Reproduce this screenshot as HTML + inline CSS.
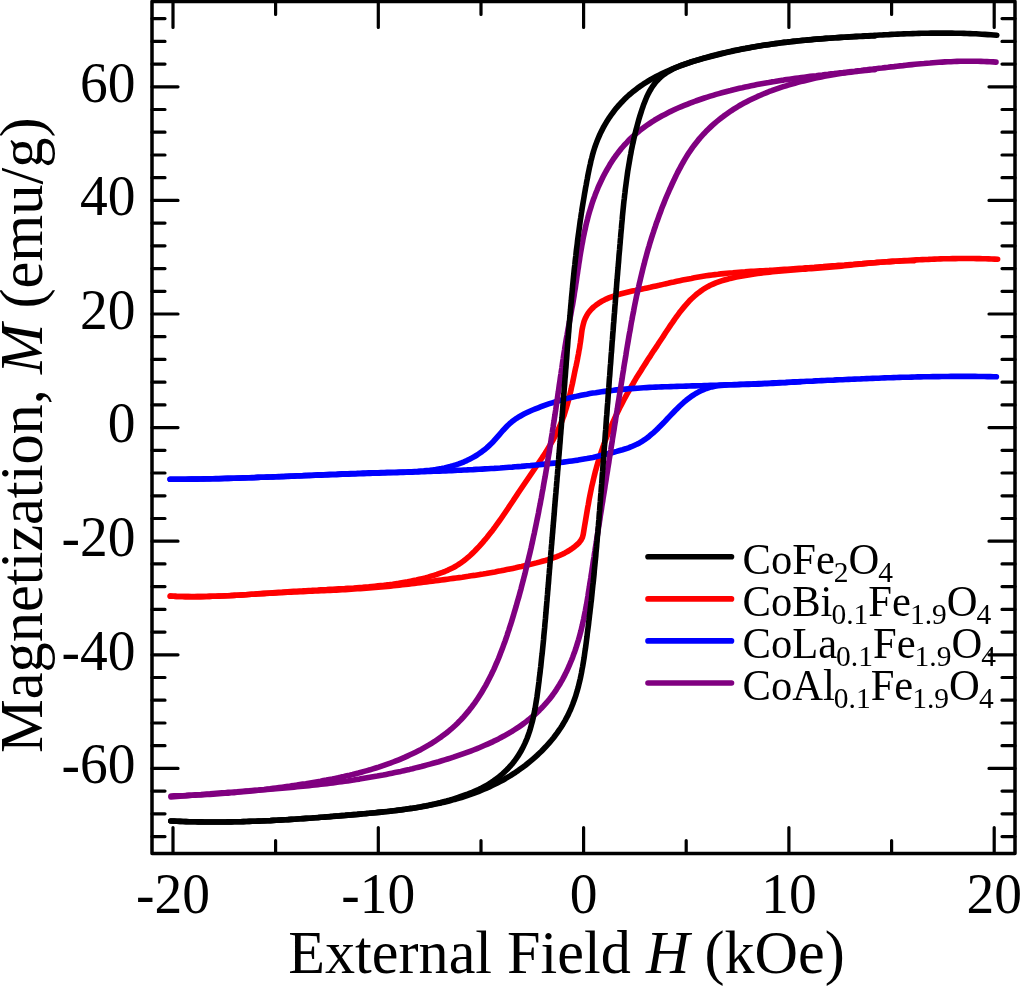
<!DOCTYPE html>
<html><head><meta charset="utf-8"><style>
html,body{margin:0;padding:0;background:#fff;}
body{width:1020px;height:986px;overflow:hidden;}
svg{display:block;font-family:"Liberation Serif","Times New Roman",serif;}
.s{font-size:29.5px;}
</style></head><body>
<svg width="1020" height="986" viewBox="0 0 1020 986">
<rect x="152" y="1.5" width="863" height="852.0" fill="none" stroke="#000" stroke-width="3.5" stroke-linejoin="round"/>
<path d="M173.0,853.5v-26M173.0,1.5v26M275.6,853.5v-13M275.6,1.5v13M378.3,853.5v-26M378.3,1.5v26M481.0,853.5v-13M481.0,1.5v13M583.6,853.5v-26M583.6,1.5v26M686.2,853.5v-13M686.2,1.5v13M788.9,853.5v-26M788.9,1.5v26M891.6,853.5v-13M891.6,1.5v13M994.2,853.5v-26M994.2,1.5v26M152,836.6h13M1015,836.6h-13M152,813.8h13M1015,813.8h-13M152,791.1h13M1015,791.1h-13M152,768.4h26M1015,768.4h-26M152,745.7h13M1015,745.7h-13M152,723.0h13M1015,723.0h-13M152,700.2h13M1015,700.2h-13M152,677.5h13M1015,677.5h-13M152,654.8h26M1015,654.8h-26M152,632.1h13M1015,632.1h-13M152,609.4h13M1015,609.4h-13M152,586.6h13M1015,586.6h-13M152,563.9h13M1015,563.9h-13M152,541.2h26M1015,541.2h-26M152,518.5h13M1015,518.5h-13M152,495.8h13M1015,495.8h-13M152,473.0h13M1015,473.0h-13M152,450.3h13M1015,450.3h-13M152,427.6h26M1015,427.6h-26M152,404.9h13M1015,404.9h-13M152,382.2h13M1015,382.2h-13M152,359.4h13M1015,359.4h-13M152,336.7h13M1015,336.7h-13M152,314.0h26M1015,314.0h-26M152,291.3h13M1015,291.3h-13M152,268.6h13M1015,268.6h-13M152,245.8h13M1015,245.8h-13M152,223.1h13M1015,223.1h-13M152,200.4h26M1015,200.4h-26M152,177.7h13M1015,177.7h-13M152,155.0h13M1015,155.0h-13M152,132.2h13M1015,132.2h-13M152,109.5h13M1015,109.5h-13M152,86.8h26M1015,86.8h-26M152,64.1h13M1015,64.1h-13M152,41.4h13M1015,41.4h-13M152,18.6h13M1015,18.6h-13" fill="none" stroke="#000" stroke-width="3.2" stroke-linecap="round"/>
<path d="M997.6,259.2 994.6,259.1 991.6,259.0 988.6,258.9 985.6,258.8 982.6,258.7 979.6,258.6 976.6,258.6 973.6,258.5 970.6,258.5 967.6,258.5 964.6,258.5 961.6,258.5 958.5,258.5 955.5,258.6 952.5,258.6 949.5,258.7 946.5,258.8 943.5,258.8 940.5,258.9 937.4,259.0 934.4,259.1 931.4,259.2 928.4,259.4 925.4,259.5 922.4,259.6 919.4,259.8 916.3,259.9 913.3,260.1 910.3,260.3 907.3,260.5 904.3,260.6 901.3,260.8 898.3,261.0 895.3,261.2 892.2,261.4 889.2,261.6 886.2,261.8 883.2,262.0 880.2,262.2 877.2,262.4 874.2,262.7 871.2,262.9 868.2,263.1 865.2,263.3 862.2,263.6 859.2,263.8 856.2,264.0 853.3,264.3 850.3,264.5 847.3,264.7 844.3,265.0 841.3,265.2 838.3,265.4 835.3,265.7 832.3,265.9 829.3,266.1 826.3,266.3 823.3,266.6 820.3,266.8 817.3,267.0 814.3,267.3 811.3,267.5 808.3,267.7 805.3,267.9 802.3,268.2 799.3,268.4 796.3,268.6 793.3,268.8 790.3,269.0 787.3,269.2 784.3,269.4 781.3,269.6 778.2,269.8 775.2,270.0 772.2,270.2 769.2,270.4 766.1,270.5 763.1,270.7 760.1,270.9 757.1,271.1 754.0,271.3 751.0,271.4 748.0,271.6 745.0,271.9 741.9,272.1 738.9,272.3 735.9,272.5 732.9,272.8 729.9,273.0 726.9,273.3 723.9,273.6 720.9,273.9 717.9,274.3 715.0,274.6 712.0,275.0 709.0,275.4 706.1,275.8 703.1,276.3 700.2,276.8 697.2,277.3 694.3,277.8 691.4,278.4 688.5,278.9 685.6,279.5 682.6,280.1 679.7,280.7 676.8,281.3 673.9,282.0 671.0,282.6 668.0,283.3 665.1,283.9 662.2,284.6 659.2,285.3 656.3,285.9 653.3,286.6 650.3,287.3 647.3,287.9 644.3,288.6 641.3,289.2 638.3,289.8 635.2,290.5 632.2,291.1 629.2,291.8 626.2,292.5 623.2,293.2 620.2,294.0 617.3,294.9 614.4,295.8 611.6,296.8 608.8,297.9 606.1,299.1 603.4,300.4 600.9,301.8 598.4,303.4 596.1,305.1 593.8,306.9 591.7,308.9 589.7,311.1 588.0,313.4 586.5,315.9 585.2,318.5 584.1,321.3 583.3,324.2 582.6,327.1 582.0,330.1 581.6,333.2 581.2,336.3 580.8,339.3 580.4,342.4 579.9,345.4 579.5,348.3 578.9,351.3 578.4,354.2 577.8,357.2 577.3,360.1 576.7,363.0 576.1,365.9 575.4,368.9 574.8,371.8 574.2,374.7 573.6,377.7 573.0,380.6 572.4,383.6 571.7,386.5 571.1,389.5 570.4,392.5 569.7,395.4 569.0,398.4 568.2,401.3 567.4,404.2 566.6,407.1 565.7,410.0 564.8,412.9 563.9,415.8 562.8,418.6 561.8,421.4 560.6,424.2 559.4,426.9 558.2,429.6 556.9,432.3 555.6,435.0 554.2,437.7 552.8,440.3 551.3,442.9 549.8,445.5 548.2,448.1 546.7,450.6 545.1,453.2 543.4,455.7 541.8,458.2 540.1,460.7 538.4,463.2 536.7,465.7 535.0,468.2 533.3,470.7 531.6,473.2 529.9,475.7 528.2,478.2 526.5,480.7 524.8,483.2 523.1,485.7 521.4,488.2 519.7,490.7 518.0,493.2 516.4,495.7 514.7,498.3 513.1,500.8 511.4,503.3 509.7,505.8 508.1,508.3 506.4,510.8 504.7,513.3 503.0,515.8 501.3,518.3 499.6,520.7 497.8,523.2 496.0,525.6 494.3,528.0 492.5,530.4 490.6,532.8 488.8,535.1 486.9,537.5 484.9,539.8 483.0,542.1 481.0,544.4 479.0,546.6 476.9,548.8 474.8,551.0 472.6,553.1 470.4,555.2 468.2,557.2 465.9,559.1 463.5,561.0 461.1,562.7 458.6,564.4 456.1,566.0 453.5,567.5 450.8,568.8 448.1,570.1 445.3,571.3 442.5,572.4 439.6,573.4 436.8,574.4 433.9,575.3 431.0,576.2 428.1,577.1 425.2,577.9 422.3,578.6 419.4,579.3 416.5,580.0 413.5,580.6 410.6,581.2 407.6,581.8 404.6,582.3 401.7,582.8 398.7,583.3 395.7,583.7 392.7,584.2 389.7,584.6 386.7,584.9 383.8,585.3 380.8,585.6 377.8,585.9 374.8,586.2 371.8,586.5 368.8,586.8 365.7,587.0 362.7,587.3 359.7,587.5 356.7,587.7 353.7,588.0 350.7,588.2 347.7,588.4 344.7,588.6 341.7,588.7 338.7,588.9 335.7,589.1 332.7,589.3 329.7,589.4 326.7,589.6 323.7,589.7 320.7,589.9 317.7,590.1 314.7,590.2 311.7,590.4 308.7,590.5 305.7,590.7 302.6,590.9 299.6,591.0 296.6,591.2 293.6,591.4 290.6,591.6 287.6,591.8 284.6,592.0 281.6,592.2 278.6,592.4 275.6,592.6 272.6,592.8 269.6,593.0 266.6,593.2 263.6,593.4 260.6,593.6 257.6,593.8 254.5,594.1 251.5,594.3 248.5,594.5 245.5,594.7 242.5,594.9 239.5,595.0 236.5,595.2 233.5,595.4 230.5,595.6 227.5,595.7 224.5,595.9 221.5,596.0 218.5,596.1 215.5,596.2 212.4,596.3 209.4,596.4 206.4,596.5 203.4,596.6 200.4,596.6 197.4,596.6 194.4,596.7 191.4,596.7 188.4,596.6 185.4,596.6 182.3,596.5 179.3,596.5 176.3,596.4 173.3,596.2 170.3,596.1" fill="none" stroke="#ff0000" stroke-width="5.6" stroke-linecap="round" stroke-linejoin="round"/>
<path d="M170.3,596.1 173.3,596.2 176.3,596.4 179.4,596.5 182.4,596.5 185.4,596.6 188.4,596.6 191.4,596.6 194.4,596.6 197.5,596.6 200.5,596.6 203.5,596.5 206.5,596.5 209.5,596.4 212.5,596.3 215.6,596.2 218.6,596.1 221.6,596.0 224.6,595.8 227.6,595.7 230.6,595.5 233.7,595.4 236.7,595.2 239.7,595.1 242.7,594.9 245.7,594.7 248.7,594.5 251.8,594.3 254.8,594.2 257.8,594.0 260.8,593.8 263.8,593.6 266.8,593.4 269.8,593.3 272.9,593.1 275.9,592.9 278.9,592.7 281.9,592.6 284.9,592.4 287.9,592.3 291.0,592.1 294.0,592.0 297.0,591.9 300.0,591.7 303.0,591.6 306.0,591.4 309.0,591.3 312.1,591.2 315.1,591.0 318.1,590.9 321.1,590.8 324.1,590.6 327.1,590.5 330.1,590.4 333.2,590.2 336.2,590.1 339.2,589.9 342.2,589.7 345.2,589.6 348.2,589.4 351.2,589.2 354.2,589.0 357.3,588.8 360.3,588.6 363.3,588.4 366.3,588.2 369.3,588.0 372.3,587.7 375.3,587.5 378.3,587.2 381.3,587.0 384.3,586.7 387.4,586.4 390.4,586.1 393.4,585.8 396.4,585.4 399.4,585.1 402.4,584.8 405.4,584.4 408.4,584.1 411.4,583.7 414.4,583.4 417.4,583.0 420.4,582.7 423.4,582.3 426.4,581.9 429.4,581.5 432.4,581.2 435.4,580.8 438.4,580.4 441.4,580.0 444.4,579.6 447.4,579.2 450.3,578.8 453.3,578.4 456.3,578.0 459.3,577.6 462.3,577.2 465.3,576.7 468.2,576.3 471.2,575.8 474.2,575.4 477.2,574.9 480.1,574.4 483.1,574.0 486.1,573.5 489.0,572.9 492.0,572.4 495.0,571.9 497.9,571.3 500.9,570.8 503.9,570.2 506.8,569.6 509.8,569.0 512.8,568.4 515.7,567.8 518.7,567.1 521.6,566.5 524.6,565.8 527.6,565.1 530.5,564.4 533.5,563.6 536.4,562.9 539.4,562.1 542.3,561.3 545.3,560.5 548.2,559.6 551.1,558.7 553.9,557.7 556.8,556.6 559.5,555.5 562.3,554.2 564.9,552.9 567.5,551.5 570.1,549.9 572.5,548.2 574.9,546.4 577.2,544.5 579.3,542.4 581.1,540.0 582.4,537.4 583.2,534.5 583.7,531.5 584.2,528.4 584.7,525.4 585.2,522.5 585.7,519.5 586.2,516.5 586.7,513.5 587.2,510.5 587.7,507.5 588.3,504.5 588.8,501.5 589.3,498.6 589.9,495.6 590.5,492.6 591.1,489.7 591.7,486.7 592.4,483.8 593.1,480.8 593.8,477.9 594.5,475.0 595.2,472.1 596.0,469.2 596.8,466.3 597.6,463.4 598.5,460.5 599.4,457.7 600.3,454.8 601.2,452.0 602.2,449.1 603.2,446.3 604.2,443.4 605.3,440.6 606.4,437.8 607.5,434.9 608.6,432.1 609.8,429.3 611.0,426.6 612.2,423.8 613.5,421.0 614.7,418.2 616.0,415.5 617.3,412.8 618.7,410.0 620.0,407.3 621.4,404.6 622.8,401.9 624.2,399.2 625.6,396.6 627.1,393.9 628.6,391.3 630.0,388.7 631.5,386.1 633.1,383.5 634.6,380.9 636.1,378.3 637.7,375.8 639.3,373.2 640.9,370.7 642.4,368.2 644.0,365.7 645.7,363.1 647.3,360.6 648.9,358.1 650.6,355.6 652.2,353.1 653.8,350.6 655.5,348.1 657.2,345.6 658.8,343.0 660.5,340.5 662.2,338.0 663.9,335.4 665.5,332.8 667.2,330.3 668.9,327.7 670.6,325.1 672.4,322.6 674.1,320.1 675.9,317.5 677.7,315.1 679.5,312.6 681.4,310.2 683.3,307.9 685.2,305.6 687.2,303.3 689.2,301.1 691.3,299.0 693.5,297.0 695.7,295.0 697.9,293.2 700.3,291.4 702.7,289.7 705.2,288.2 707.7,286.7 710.3,285.3 713.0,284.1 715.8,282.9 718.6,281.9 721.5,280.9 724.4,280.0 727.3,279.2 730.3,278.4 733.3,277.7 736.3,277.0 739.4,276.4 742.4,275.9 745.4,275.4 748.5,274.9 751.5,274.4 754.5,274.0 757.6,273.5 760.6,273.2 763.6,272.8 766.6,272.4 769.6,272.1 772.6,271.8 775.6,271.5 778.6,271.2 781.6,270.9 784.5,270.7 787.5,270.4 790.5,270.2 793.5,270.0 796.5,269.7 799.4,269.5 802.4,269.3 805.4,269.1 808.4,268.8 811.4,268.6 814.4,268.4 817.3,268.2 820.3,267.9 823.3,267.7 826.3,267.5 829.3,267.2 832.3,266.9 835.3,266.7 838.4,266.4 841.4,266.1 844.4,265.8 847.4,265.5 850.4,265.2 853.5,264.8 856.5,264.5 859.5,264.2 862.6,263.9 865.6,263.6 868.6,263.3 871.6,263.0 874.7,262.8 877.7,262.5 880.7,262.2 883.8,262.0 886.8,261.8 889.8,261.6 892.8,261.4 895.8,261.2 898.8,261.1 901.8,260.9 904.8,260.8 907.8,260.7 910.8,260.7 913.8,260.7" fill="none" stroke="#ff0000" stroke-width="5.6" stroke-linecap="round" stroke-linejoin="round"/>
<path d="M996.4,376.7 993.4,376.7 990.3,376.6 987.3,376.6 984.2,376.5 981.2,376.5 978.2,376.5 975.1,376.4 972.1,376.4 969.0,376.4 966.0,376.4 963.0,376.4 960.0,376.4 956.9,376.4 953.9,376.4 950.9,376.4 947.9,376.5 944.8,376.5 941.8,376.5 938.8,376.6 935.8,376.6 932.8,376.6 929.7,376.7 926.7,376.8 923.7,376.8 920.7,376.9 917.7,376.9 914.7,377.0 911.7,377.1 908.7,377.2 905.7,377.3 902.6,377.3 899.6,377.4 896.6,377.5 893.6,377.6 890.6,377.7 887.6,377.8 884.6,377.9 881.6,378.0 878.6,378.2 875.6,378.3 872.6,378.4 869.6,378.5 866.6,378.6 863.6,378.7 860.6,378.9 857.6,379.0 854.6,379.1 851.6,379.3 848.6,379.4 845.6,379.5 842.6,379.7 839.6,379.8 836.6,379.9 833.6,380.1 830.6,380.2 827.6,380.3 824.6,380.5 821.7,380.6 818.7,380.8 815.7,380.9 812.7,381.1 809.7,381.2 806.7,381.3 803.7,381.5 800.7,381.6 797.7,381.8 794.7,381.9 791.7,382.1 788.7,382.2 785.7,382.4 782.7,382.5 779.6,382.6 776.6,382.8 773.6,382.9 770.6,383.1 767.6,383.2 764.6,383.3 761.6,383.5 758.6,383.6 755.6,383.7 752.6,383.9 749.6,384.0 746.6,384.1 743.5,384.2 740.5,384.3 737.5,384.5 734.5,384.6 731.5,384.7 728.5,384.8 725.4,384.9 722.4,385.0 719.4,385.1 716.4,385.2 713.3,385.3 710.3,385.4 707.3,385.5 704.2,385.6 701.2,385.7 698.2,385.8 695.1,385.9 692.1,385.9 689.1,386.0 686.0,386.1 683.0,386.2 680.0,386.3 676.9,386.4 673.9,386.5 670.8,386.6 667.8,386.7 664.8,386.8 661.7,386.9 658.7,387.0 655.7,387.1 652.6,387.3 649.6,387.4 646.6,387.6 643.6,387.8 640.6,388.0 637.5,388.2 634.5,388.4 631.5,388.6 628.5,388.8 625.5,389.1 622.5,389.4 619.5,389.6 616.5,389.9 613.5,390.3 610.6,390.6 607.6,391.0 604.6,391.4 601.6,391.8 598.7,392.2 595.7,392.7 592.8,393.1 589.8,393.6 586.9,394.2 584.0,394.7 581.0,395.3 578.1,395.9 575.2,396.6 572.3,397.2 569.4,397.9 566.5,398.6 563.7,399.4 560.8,400.2 557.9,401.0 555.1,401.9 552.2,402.8 549.4,403.7 546.6,404.6 543.8,405.6 541.0,406.7 538.2,407.8 535.4,408.9 532.6,410.0 529.8,411.2 527.1,412.5 524.4,413.8 521.8,415.2 519.2,416.7 516.6,418.3 514.2,420.0 511.8,421.8 509.6,423.7 507.4,425.8 505.3,428.0 503.2,430.2 501.2,432.5 499.2,434.8 497.2,437.1 495.2,439.4 493.2,441.7 491.1,443.8 488.9,445.9 486.7,447.9 484.4,449.8 482.0,451.6 479.6,453.3 477.1,455.0 474.6,456.5 472.1,457.9 469.5,459.3 466.8,460.6 464.1,461.8 461.4,462.9 458.7,463.9 455.9,464.8 453.1,465.7 450.2,466.5 447.4,467.2 444.5,467.9 441.6,468.5 438.7,469.0 435.7,469.5 432.8,469.9 429.8,470.3 426.8,470.6 423.8,470.9 420.8,471.1 417.7,471.4 414.7,471.5 411.6,471.7 408.6,471.8 405.5,472.0 402.5,472.1 399.4,472.1 396.3,472.2 393.3,472.3 390.2,472.4 387.1,472.4 384.1,472.5 381.0,472.6 378.0,472.7 374.9,472.8 371.9,472.8 368.8,472.9 365.8,473.0 362.8,473.1 359.7,473.2 356.7,473.4 353.7,473.5 350.6,473.6 347.6,473.7 344.6,473.8 341.6,473.9 338.6,474.0 335.6,474.2 332.6,474.3 329.6,474.4 326.6,474.5 323.6,474.7 320.6,474.8 317.6,474.9 314.6,475.0 311.6,475.2 308.6,475.3 305.6,475.4 302.6,475.6 299.6,475.7 296.6,475.8 293.6,476.0 290.6,476.1 287.6,476.2 284.6,476.4 281.7,476.5 278.7,476.6 275.7,476.7 272.7,476.9 269.7,477.0 266.7,477.1 263.7,477.2 260.7,477.3 257.7,477.4 254.7,477.6 251.7,477.7 248.7,477.8 245.7,477.9 242.7,478.0 239.7,478.1 236.7,478.2 233.7,478.3 230.7,478.4 227.7,478.4 224.7,478.5 221.7,478.6 218.7,478.7 215.7,478.7 212.7,478.8 209.6,478.9 206.6,478.9 203.6,479.0 200.5,479.0 197.5,479.1 194.5,479.1 191.4,479.1 188.4,479.2 185.3,479.2 182.3,479.2 179.2,479.2 176.2,479.2 173.1,479.2 170.0,479.2" fill="none" stroke="#0000ff" stroke-width="5.6" stroke-linecap="round" stroke-linejoin="round"/>
<path d="M170.2,479.3 173.3,479.3 176.3,479.3 179.4,479.2 182.4,479.2 185.4,479.2 188.5,479.1 191.5,479.1 194.5,479.1 197.6,479.0 200.6,479.0 203.6,478.9 206.7,478.8 209.7,478.8 212.7,478.7 215.7,478.6 218.8,478.6 221.8,478.5 224.8,478.4 227.8,478.4 230.9,478.3 233.9,478.2 236.9,478.1 239.9,478.0 243.0,477.9 246.0,477.8 249.0,477.7 252.0,477.6 255.1,477.5 258.1,477.4 261.1,477.3 264.1,477.2 267.1,477.1 270.2,477.0 273.2,476.9 276.2,476.8 279.2,476.7 282.2,476.6 285.3,476.5 288.3,476.4 291.3,476.3 294.3,476.1 297.3,476.0 300.4,475.9 303.4,475.8 306.4,475.7 309.4,475.6 312.4,475.5 315.5,475.3 318.5,475.2 321.5,475.1 324.5,475.0 327.6,474.9 330.6,474.8 333.6,474.7 336.6,474.6 339.6,474.4 342.7,474.3 345.7,474.2 348.7,474.1 351.7,474.0 354.8,473.9 357.8,473.8 360.8,473.7 363.9,473.6 366.9,473.5 369.9,473.4 372.9,473.3 376.0,473.2 379.0,473.1 382.0,473.0 385.1,472.9 388.1,472.8 391.1,472.7 394.2,472.7 397.2,472.6 400.2,472.5 403.3,472.4 406.3,472.3 409.3,472.2 412.4,472.1 415.4,472.0 418.4,471.9 421.5,471.8 424.5,471.7 427.5,471.5 430.6,471.4 433.6,471.3 436.6,471.2 439.6,471.1 442.7,471.0 445.7,470.9 448.7,470.7 451.8,470.6 454.8,470.5 457.8,470.3 460.9,470.2 463.9,470.0 466.9,469.9 469.9,469.7 473.0,469.6 476.0,469.4 479.0,469.3 482.0,469.1 485.1,468.9 488.1,468.7 491.1,468.5 494.1,468.4 497.1,468.2 500.1,468.0 503.2,467.7 506.2,467.5 509.2,467.3 512.2,467.1 515.2,466.8 518.2,466.6 521.2,466.4 524.2,466.1 527.2,465.8 530.3,465.6 533.3,465.3 536.3,465.0 539.3,464.7 542.3,464.4 545.2,464.1 548.2,463.8 551.2,463.4 554.2,463.1 557.2,462.8 560.2,462.4 563.2,462.1 566.2,461.7 569.2,461.3 572.1,460.9 575.1,460.5 578.1,460.1 581.1,459.6 584.0,459.1 587.0,458.6 590.0,458.0 592.9,457.4 595.9,456.7 598.8,456.0 601.8,455.3 604.7,454.5 607.7,453.7 610.7,453.0 613.7,452.2 616.7,451.4 619.7,450.5 622.6,449.7 625.6,448.8 628.5,447.8 631.3,446.7 634.1,445.5 636.8,444.3 639.5,442.9 642.1,441.3 644.6,439.7 647.0,438.0 649.3,436.2 651.6,434.2 653.9,432.3 656.1,430.2 658.3,428.1 660.4,426.0 662.6,423.8 664.7,421.6 666.8,419.3 668.9,417.1 671.0,414.9 673.1,412.7 675.2,410.5 677.3,408.4 679.5,406.2 681.7,404.2 683.9,402.2 686.2,400.3 688.5,398.5 690.9,396.7 693.3,395.1 695.8,393.5 698.4,392.1 701.0,390.8 703.6,389.6 706.4,388.5 709.2,387.6 712.0,386.9 714.9,386.3 717.9,385.8 720.9,385.4 724.0,385.1 727.0,384.9 730.1,384.8 733.3,384.7 736.4,384.7 739.5,384.6 742.6,384.5 745.6,384.5 748.7,384.4 751.7,384.3 754.8,384.2 757.8,384.1 760.8,383.9 763.9,383.8 766.9,383.7 769.9,383.5 772.9,383.4 775.9,383.2 778.9,383.0 781.9,382.8 784.9,382.7 787.9,382.5 790.9,382.3 793.9,382.1 796.9,381.9 800.0,381.7" fill="none" stroke="#0000ff" stroke-width="5.6" stroke-linecap="round" stroke-linejoin="round"/>
<path d="M996.0,62.1 993.0,61.9 990.0,61.7 987.0,61.6 984.0,61.5 981.0,61.4 978.0,61.3 975.0,61.2 972.0,61.2 969.0,61.2 966.0,61.2 963.0,61.3 960.0,61.3 957.0,61.4 954.0,61.5 951.0,61.7 948.0,61.8 945.0,61.9 942.0,62.1 939.0,62.3 936.0,62.5 933.0,62.7 930.0,63.0 927.0,63.2 924.0,63.5 921.0,63.7 918.0,64.0 915.0,64.3 912.0,64.6 909.0,64.9 906.0,65.2 903.0,65.6 900.0,65.9 897.0,66.2 894.0,66.6 891.0,66.9 888.0,67.3 885.0,67.6 882.0,68.0 879.0,68.3 876.0,68.7 873.0,69.1 870.0,69.4 867.0,69.8 864.0,70.1 861.0,70.5 858.0,70.8 855.0,71.2 852.0,71.5 849.0,71.9 846.1,72.2 843.1,72.6 840.1,72.9 837.1,73.2 834.1,73.6 831.1,73.9 828.1,74.3 825.2,74.6 822.2,75.0 819.2,75.3 816.2,75.7 813.3,76.0 810.3,76.4 807.3,76.8 804.3,77.2 801.4,77.6 798.4,78.0 795.4,78.4 792.5,78.8 789.5,79.2 786.5,79.6 783.6,80.1 780.6,80.5 777.7,81.0 774.7,81.5 771.7,81.9 768.8,82.5 765.8,83.0 762.9,83.5 760.0,84.0 757.0,84.6 754.1,85.2 751.1,85.8 748.2,86.4 745.2,87.0 742.3,87.7 739.4,88.3 736.5,89.0 733.5,89.7 730.6,90.5 727.7,91.2 724.8,92.0 721.8,92.8 718.9,93.6 716.0,94.4 713.1,95.3 710.2,96.2 707.3,97.1 704.4,98.0 701.5,99.0 698.6,100.0 695.7,101.0 692.8,102.1 690.0,103.1 687.1,104.3 684.3,105.4 681.4,106.6 678.6,107.8 675.8,109.0 673.1,110.3 670.3,111.6 667.6,113.0 664.9,114.4 662.2,115.8 659.6,117.3 657.0,118.8 654.4,120.3 651.9,121.9 649.4,123.6 646.9,125.3 644.5,127.0 642.1,128.8 639.7,130.6 637.4,132.5 635.2,134.4 633.0,136.4 630.8,138.4 628.7,140.4 626.7,142.6 624.7,144.7 622.7,147.0 620.8,149.2 619.0,151.5 617.2,153.9 615.4,156.3 613.7,158.7 612.0,161.2 610.4,163.7 608.9,166.3 607.4,168.9 605.9,171.5 604.5,174.1 603.1,176.8 601.8,179.5 600.5,182.2 599.2,185.0 598.0,187.7 596.9,190.5 595.7,193.3 594.7,196.2 593.6,199.0 592.6,201.9 591.7,204.7 590.8,207.6 589.9,210.5 589.0,213.4 588.2,216.3 587.5,219.2 586.7,222.2 586.0,225.1 585.4,228.0 584.7,231.0 584.1,233.9 583.5,236.8 582.9,239.8 582.4,242.8 581.8,245.7 581.3,248.7 580.8,251.6 580.3,254.6 579.8,257.6 579.4,260.6 578.9,263.5 578.5,266.5 578.0,269.5 577.6,272.5 577.1,275.4 576.7,278.4 576.3,281.4 575.8,284.4 575.4,287.4 574.9,290.3 574.4,293.3 574.0,296.3 573.5,299.2 573.0,302.2 572.5,305.2 571.9,308.1 571.4,311.1 570.9,314.0 570.3,317.0 569.8,320.0 569.2,322.9 568.7,325.9 568.1,328.8 567.6,331.8 567.1,334.8 566.5,337.7 566.0,340.7 565.5,343.7 565.0,346.7 564.6,349.7 564.1,352.6 563.6,355.6 563.2,358.6 562.7,361.6 562.3,364.6 561.9,367.6 561.4,370.6 561.0,373.6 560.5,376.6 560.1,379.6 559.7,382.6 559.2,385.5 558.8,388.5 558.4,391.5 557.9,394.5 557.5,397.5 557.1,400.5 556.6,403.4 556.2,406.4 555.8,409.4 555.3,412.4 554.9,415.3 554.4,418.3 554.0,421.3 553.5,424.2 553.1,427.2 552.6,430.2 552.2,433.1 551.7,436.1 551.2,439.0 550.8,442.0 550.3,445.0 549.8,447.9 549.4,450.9 548.9,453.8 548.4,456.8 547.9,459.7 547.4,462.7 547.0,465.6 546.5,468.6 546.0,471.5 545.5,474.5 545.0,477.4 544.4,480.4 543.9,483.3 543.4,486.3 542.9,489.2 542.3,492.1 541.8,495.1 541.3,498.0 540.7,501.0 540.2,503.9 539.6,506.8 539.0,509.8 538.5,512.7 537.9,515.7 537.3,518.6 536.7,521.5 536.1,524.5 535.5,527.4 534.9,530.3 534.3,533.3 533.6,536.2 533.0,539.1 532.4,542.0 531.7,545.0 531.1,547.9 530.4,550.8 529.7,553.8 529.0,556.7 528.3,559.6 527.6,562.5 526.9,565.5 526.2,568.4 525.5,571.3 524.8,574.3 524.0,577.2 523.3,580.1 522.5,583.0 521.7,586.0 521.0,588.9 520.2,591.8 519.4,594.7 518.6,597.7 517.7,600.6 516.9,603.5 516.1,606.4 515.2,609.4 514.3,612.3 513.5,615.2 512.6,618.1 511.7,621.1 510.8,624.0 509.8,626.9 508.9,629.8 507.9,632.7 507.0,635.6 506.0,638.5 505.0,641.4 503.9,644.3 502.9,647.1 501.8,650.0 500.7,652.8 499.6,655.7 498.5,658.5 497.3,661.3 496.1,664.0 494.9,666.8 493.7,669.6 492.4,672.3 491.1,675.0 489.7,677.7 488.4,680.3 487.0,683.0 485.6,685.6 484.1,688.2 482.6,690.7 481.1,693.3 479.5,695.8 477.9,698.2 476.2,700.7 474.6,703.1 472.8,705.5 471.1,707.8 469.3,710.1 467.4,712.4 465.5,714.6 463.6,716.8 461.6,719.0 459.6,721.1 457.5,723.2 455.4,725.2 453.2,727.2 451.0,729.2 448.7,731.1 446.4,733.0 444.0,734.8 441.6,736.6 439.2,738.3 436.7,740.0 434.2,741.7 431.6,743.3 429.0,744.9 426.4,746.4 423.8,747.9 421.1,749.4 418.4,750.8 415.6,752.2 412.9,753.5 410.1,754.8 407.3,756.1 404.5,757.4 401.7,758.6 398.8,759.8 396.0,760.9 393.1,762.0 390.2,763.1 387.3,764.1 384.5,765.1 381.6,766.1 378.7,767.1 375.8,768.0 372.9,768.9 370.0,769.8 367.1,770.6 364.2,771.4 361.3,772.2 358.4,773.0 355.6,773.7 352.7,774.5 349.7,775.2 346.8,775.8 343.9,776.5 341.0,777.1 338.1,777.8 335.2,778.4 332.3,779.0 329.4,779.5 326.4,780.1 323.5,780.6 320.6,781.2 317.6,781.7 314.7,782.2 311.7,782.7 308.8,783.2 305.8,783.7 302.9,784.1 299.9,784.6 296.9,785.1 294.0,785.5 291.0,785.9 288.0,786.4 285.0,786.8 282.1,787.2 279.1,787.6 276.1,788.0 273.1,788.4 270.1,788.8 267.1,789.1 264.1,789.5 261.1,789.8 258.1,790.2 255.1,790.5 252.1,790.8 249.1,791.1 246.1,791.4 243.1,791.7 240.1,792.0 237.0,792.3 234.0,792.6 231.0,792.8 228.0,793.1 225.0,793.3 222.0,793.5 219.0,793.7 216.0,794.0 213.0,794.2 210.0,794.4 207.0,794.5 204.0,794.7 201.0,794.9 198.0,795.0 195.0,795.2 192.0,795.3 189.0,795.4 186.0,795.6 183.0,795.7 180.0,795.8 177.0,795.9 174.1,795.9 171.1,796.0" fill="none" stroke="#800080" stroke-width="5.6" stroke-linecap="round" stroke-linejoin="round"/>
<path d="M170.9,796.9 173.9,796.6 176.9,796.4 179.9,796.1 183.0,795.9 186.0,795.6 189.0,795.4 192.0,795.2 195.0,794.9 198.0,794.7 201.0,794.5 204.0,794.2 207.0,794.0 210.1,793.8 213.1,793.5 216.1,793.3 219.1,793.1 222.1,792.9 225.1,792.7 228.1,792.4 231.1,792.2 234.1,792.0 237.1,791.8 240.1,791.5 243.1,791.3 246.1,791.1 249.1,790.9 252.1,790.6 255.1,790.4 258.1,790.2 261.1,789.9 264.1,789.7 267.1,789.5 270.1,789.2 273.1,789.0 276.1,788.7 279.1,788.5 282.1,788.2 285.1,787.9 288.1,787.7 291.1,787.4 294.0,787.1 297.0,786.8 300.0,786.5 303.0,786.2 306.0,785.9 309.0,785.6 312.0,785.3 314.9,785.0 317.9,784.6 320.9,784.3 323.9,783.9 326.8,783.6 329.8,783.2 332.8,782.9 335.8,782.5 338.7,782.1 341.7,781.7 344.7,781.3 347.6,780.9 350.6,780.4 353.6,780.0 356.5,779.5 359.5,779.1 362.5,778.6 365.4,778.1 368.4,777.6 371.3,777.1 374.3,776.6 377.2,776.1 380.2,775.5 383.1,775.0 386.1,774.4 389.0,773.8 392.0,773.2 394.9,772.6 397.8,772.0 400.8,771.4 403.7,770.7 406.7,770.0 409.6,769.4 412.5,768.7 415.5,767.9 418.4,767.2 421.3,766.5 424.2,765.7 427.2,764.9 430.1,764.1 433.0,763.3 435.9,762.5 438.8,761.7 441.8,760.8 444.7,759.9 447.6,759.0 450.5,758.1 453.4,757.2 456.3,756.2 459.2,755.2 462.1,754.2 465.0,753.2 467.8,752.2 470.7,751.1 473.5,750.0 476.4,748.9 479.2,747.7 482.0,746.5 484.8,745.3 487.6,744.1 490.3,742.9 493.1,741.6 495.8,740.2 498.5,738.9 501.1,737.5 503.8,736.1 506.4,734.6 509.0,733.1 511.6,731.6 514.1,730.0 516.6,728.4 519.0,726.8 521.5,725.1 523.9,723.4 526.2,721.6 528.5,719.8 530.8,717.9 533.1,716.0 535.3,714.1 537.4,712.1 539.5,710.1 541.6,708.0 543.6,705.9 545.6,703.7 547.5,701.5 549.4,699.2 551.2,696.9 553.0,694.5 554.7,692.1 556.4,689.6 558.0,687.1 559.6,684.5 561.1,681.9 562.6,679.3 564.0,676.6 565.4,673.9 566.7,671.2 568.0,668.4 569.2,665.7 570.4,662.8 571.6,660.0 572.7,657.2 573.7,654.3 574.8,651.4 575.8,648.5 576.7,645.6 577.6,642.7 578.5,639.8 579.3,636.9 580.1,634.0 580.9,631.1 581.6,628.1 582.3,625.2 582.9,622.3 583.6,619.3 584.2,616.4 584.8,613.4 585.4,610.5 585.9,607.5 586.5,604.6 587.0,601.6 587.5,598.6 588.0,595.7 588.4,592.7 588.9,589.8 589.4,586.8 589.8,583.8 590.3,580.9 590.8,577.9 591.2,574.9 591.7,572.0 592.1,569.0 592.6,566.0 593.0,563.0 593.5,560.1 594.0,557.1 594.4,554.1 594.9,551.2 595.3,548.2 595.8,545.2 596.3,542.3 596.7,539.3 597.2,536.3 597.7,533.3 598.1,530.4 598.6,527.4 599.1,524.4 599.5,521.5 600.0,518.5 600.4,515.5 600.9,512.5 601.4,509.6 601.8,506.6 602.3,503.6 602.8,500.7 603.2,497.7 603.7,494.7 604.2,491.7 604.7,488.8 605.1,485.8 605.6,482.8 606.1,479.8 606.5,476.9 607.0,473.9 607.5,470.9 607.9,467.9 608.4,465.0 608.9,462.0 609.3,459.0 609.8,456.1 610.3,453.1 610.8,450.1 611.2,447.1 611.7,444.2 612.2,441.2 612.6,438.2 613.1,435.2 613.6,432.3 614.1,429.3 614.5,426.3 615.0,423.3 615.5,420.4 615.9,417.4 616.4,414.4 616.9,411.5 617.4,408.5 617.8,405.5 618.3,402.5 618.8,399.6 619.2,396.6 619.7,393.6 620.2,390.7 620.7,387.7 621.1,384.7 621.6,381.7 622.1,378.8 622.5,375.8 623.0,372.8 623.5,369.9 623.9,366.9 624.4,363.9 624.9,361.0 625.4,358.0 625.9,355.0 626.3,352.1 626.8,349.1 627.3,346.1 627.8,343.2 628.3,340.2 628.8,337.2 629.3,334.3 629.9,331.3 630.4,328.4 630.9,325.4 631.4,322.4 632.0,319.5 632.5,316.5 633.1,313.6 633.7,310.6 634.2,307.7 634.8,304.8 635.4,301.8 636.0,298.9 636.6,295.9 637.3,293.0 637.9,290.1 638.6,287.1 639.2,284.2 639.9,281.3 640.6,278.3 641.3,275.4 642.0,272.5 642.7,269.6 643.4,266.7 644.2,263.8 644.9,260.8 645.7,257.9 646.5,255.0 647.3,252.1 648.1,249.2 649.0,246.3 649.8,243.4 650.7,240.6 651.6,237.7 652.5,234.8 653.5,231.9 654.4,229.0 655.4,226.2 656.3,223.3 657.4,220.4 658.4,217.6 659.4,214.8 660.5,211.9 661.5,209.1 662.6,206.3 663.8,203.4 664.9,200.6 666.0,197.8 667.2,195.0 668.4,192.3 669.6,189.5 670.9,186.7 672.1,184.0 673.4,181.2 674.7,178.5 676.0,175.8 677.3,173.1 678.7,170.4 680.1,167.8 681.5,165.1 683.0,162.5 684.5,159.9 686.0,157.4 687.6,154.8 689.2,152.3 690.9,149.9 692.6,147.4 694.4,145.0 696.2,142.7 698.0,140.4 699.9,138.1 701.9,135.9 703.9,133.7 705.9,131.6 708.0,129.5 710.2,127.4 712.3,125.4 714.6,123.4 716.8,121.5 719.1,119.6 721.5,117.7 723.9,115.9 726.3,114.2 728.7,112.5 731.2,110.8 733.7,109.2 736.3,107.6 738.8,106.0 741.4,104.5 744.1,103.1 746.7,101.7 749.4,100.3 752.1,99.0 754.9,97.7 757.6,96.4 760.4,95.2 763.2,94.0 766.0,92.9 768.8,91.7 771.7,90.7 774.5,89.6 777.4,88.6 780.3,87.6 783.2,86.7 786.1,85.8 789.0,84.9 791.9,84.0 794.9,83.2 797.8,82.4 800.7,81.6 803.7,80.9 806.6,80.2 809.6,79.5 812.5,78.8 815.5,78.1 818.4,77.5 821.3,76.9 824.3,76.3 827.2,75.8 830.2,75.2 833.1,74.7 836.1,74.2 839.0,73.8 842.0,73.3 844.9,72.9 847.9,72.5 850.9,72.1 853.8,71.7 856.8,71.4 859.7,71.0 862.7,70.7 865.7,70.4 868.6,70.1 871.6,69.8 874.6,69.6" fill="none" stroke="#800080" stroke-width="5.6" stroke-linecap="round" stroke-linejoin="round"/>
<path d="M996.8,35.3 993.8,35.0 990.9,34.8 987.9,34.6 984.9,34.4 981.9,34.2 978.9,34.0 976.0,33.8 973.0,33.7 970.0,33.6 967.0,33.5 964.0,33.4 961.0,33.3 958.0,33.2 955.0,33.2 952.0,33.1 949.0,33.1 946.0,33.1 943.0,33.1 940.0,33.1 936.9,33.1 933.9,33.1 930.9,33.1 927.9,33.2 924.9,33.3 921.9,33.3 918.9,33.4 915.9,33.5 912.8,33.6 909.8,33.7 906.8,33.8 903.8,33.9 900.8,34.0 897.8,34.1 894.7,34.3 891.7,34.4 888.7,34.6 885.7,34.7 882.7,34.9 879.7,35.0 876.7,35.2 873.6,35.4 870.6,35.5 867.6,35.7 864.6,35.9 861.6,36.1 858.6,36.2 855.6,36.4 852.6,36.6 849.6,36.8 846.6,37.0 843.6,37.2 840.6,37.4 837.6,37.6 834.6,37.8 831.6,38.0 828.6,38.2 825.7,38.4 822.7,38.7 819.7,38.9 816.7,39.1 813.7,39.4 810.7,39.7 807.8,39.9 804.8,40.2 801.8,40.5 798.8,40.8 795.9,41.1 792.9,41.4 789.9,41.7 786.9,42.1 784.0,42.4 781.0,42.8 778.0,43.2 775.1,43.6 772.1,44.0 769.2,44.4 766.2,44.8 763.2,45.2 760.3,45.7 757.3,46.2 754.4,46.7 751.4,47.2 748.5,47.7 745.5,48.3 742.6,48.8 739.7,49.4 736.7,50.0 733.8,50.6 730.8,51.3 727.9,51.9 725.0,52.6 722.0,53.3 719.1,54.0 716.2,54.8 713.2,55.5 710.3,56.3 707.4,57.1 704.4,57.9 701.5,58.8 698.6,59.7 695.7,60.6 692.7,61.5 689.8,62.5 686.9,63.5 684.0,64.5 681.2,65.5 678.3,66.6 675.5,67.7 672.6,68.9 669.8,70.1 667.0,71.3 664.3,72.6 661.5,73.9 658.8,75.2 656.1,76.6 653.5,78.0 650.8,79.5 648.3,81.0 645.7,82.6 643.2,84.2 640.7,85.9 638.3,87.6 635.9,89.4 633.6,91.2 631.3,93.1 629.0,95.0 626.8,97.0 624.7,99.1 622.6,101.2 620.6,103.3 618.6,105.5 616.6,107.8 614.8,110.1 613.0,112.5 611.2,114.9 609.5,117.3 607.9,119.8 606.3,122.3 604.8,124.9 603.3,127.5 602.0,130.2 600.6,132.8 599.4,135.5 598.2,138.3 597.1,141.1 596.0,143.9 595.0,146.7 594.1,149.5 593.2,152.4 592.4,155.3 591.7,158.2 590.9,161.1 590.3,164.1 589.6,167.0 589.0,170.0 588.4,172.9 587.8,175.9 587.3,178.8 586.7,181.8 586.2,184.7 585.6,187.7 585.1,190.7 584.6,193.6 584.1,196.6 583.6,199.6 583.1,202.5 582.6,205.5 582.1,208.5 581.7,211.4 581.2,214.4 580.8,217.4 580.3,220.4 579.9,223.3 579.5,226.3 579.1,229.3 578.7,232.3 578.3,235.2 577.9,238.2 577.5,241.2 577.2,244.2 576.8,247.1 576.4,250.1 576.1,253.1 575.8,256.1 575.4,259.1 575.1,262.1 574.8,265.0 574.4,268.0 574.1,271.0 573.8,274.0 573.5,277.0 573.2,280.0 572.9,283.0 572.6,286.0 572.4,288.9 572.1,291.9 571.8,294.9 571.5,297.9 571.3,300.9 571.0,303.9 570.7,306.9 570.5,309.9 570.2,312.9 570.0,315.9 569.7,318.9 569.5,321.9 569.2,324.9 569.0,327.9 568.8,330.9 568.5,333.9 568.3,336.9 568.0,339.9 567.8,342.9 567.6,345.9 567.3,348.9 567.1,351.9 566.9,354.9 566.7,357.9 566.4,360.9 566.2,363.9 566.0,366.9 565.7,369.9 565.5,372.9 565.3,375.9 565.0,378.9 564.8,381.9 564.6,384.9 564.3,387.9 564.1,390.9 563.9,393.9 563.6,396.9 563.4,399.9 563.2,402.9 562.9,405.9 562.7,408.9 562.5,411.9 562.2,414.9 562.0,417.9 561.7,420.9 561.5,423.9 561.3,426.9 561.0,429.9 560.8,432.9 560.5,435.9 560.3,438.9 560.1,441.9 559.8,444.9 559.6,447.9 559.3,450.9 559.1,453.9 558.8,456.9 558.6,460.0 558.3,463.0 558.1,466.0 557.9,469.0 557.6,472.0 557.4,475.0 557.1,478.0 556.9,481.0 556.6,484.0 556.4,487.0 556.1,490.0 555.9,493.0 555.6,496.0 555.4,498.9 555.1,501.9 554.9,504.9 554.6,507.9 554.4,510.9 554.2,513.9 553.9,516.9 553.7,519.9 553.4,522.9 553.2,525.9 552.9,528.9 552.7,531.9 552.4,534.9 552.2,537.9 551.9,540.9 551.7,543.8 551.4,546.8 551.2,549.8 550.9,552.8 550.7,555.8 550.4,558.8 550.2,561.8 549.9,564.7 549.7,567.7 549.4,570.7 549.2,573.7 548.9,576.7 548.7,579.7 548.5,582.6 548.2,585.6 548.0,588.6 547.7,591.6 547.5,594.5 547.2,597.5 547.0,600.5 546.7,603.5 546.5,606.4 546.2,609.4 546.0,612.4 545.7,615.4 545.5,618.3 545.2,621.3 544.9,624.3 544.7,627.3 544.4,630.3 544.1,633.3 543.8,636.3 543.6,639.2 543.3,642.2 543.0,645.2 542.7,648.2 542.4,651.2 542.1,654.2 541.7,657.2 541.4,660.3 541.1,663.3 540.8,666.3 540.4,669.3 540.1,672.4 539.7,675.4 539.3,678.4 539.0,681.5 538.6,684.5 538.2,687.6 537.8,690.6 537.4,693.7 537.0,696.7 536.5,699.8 536.0,702.8 535.5,705.9 535.0,708.9 534.4,711.9 533.8,714.9 533.2,717.9 532.5,720.9 531.7,723.8 530.9,726.7 530.1,729.6 529.2,732.4 528.2,735.2 527.2,738.0 526.1,740.7 524.9,743.4 523.6,746.1 522.3,748.7 520.9,751.3 519.4,753.8 517.9,756.2 516.2,758.6 514.5,761.0 512.7,763.3 510.8,765.5 508.8,767.7 506.8,769.8 504.7,771.8 502.6,773.8 500.4,775.7 498.1,777.6 495.7,779.3 493.3,781.1 490.9,782.7 488.3,784.3 485.8,785.8 483.1,787.2 480.5,788.6 477.8,789.9 475.0,791.1 472.2,792.3 469.4,793.4 466.6,794.5 463.8,795.5 460.9,796.5 458.1,797.5 455.2,798.4 452.3,799.3 449.4,800.2 446.5,801.0 443.6,801.7 440.7,802.5 437.7,803.2 434.8,803.9 431.9,804.5 428.9,805.2 425.9,805.8 423.0,806.3 420.0,806.9 417.0,807.4 414.1,807.9 411.1,808.4 408.1,808.8 405.1,809.3 402.1,809.7 399.1,810.1 396.1,810.5 393.1,810.8 390.1,811.2 387.1,811.5 384.1,811.8 381.1,812.1 378.1,812.4 375.1,812.7 372.1,813.0 369.0,813.3 366.0,813.6 363.0,813.8 360.0,814.1 357.0,814.4 354.0,814.6 351.0,814.9 348.0,815.1 345.0,815.4 342.0,815.6 339.0,815.9 336.0,816.1 333.0,816.3 330.0,816.6 327.0,816.8 324.0,817.1 321.0,817.3 318.0,817.5 315.0,817.7 312.0,818.0 309.0,818.2 306.0,818.4 303.1,818.6 300.1,818.8 297.1,819.0 294.1,819.2 291.1,819.4 288.1,819.6 285.1,819.7 282.1,819.9 279.2,820.1 276.2,820.3 273.2,820.4 270.2,820.6 267.2,820.7 264.2,820.8 261.2,821.0 258.2,821.1 255.2,821.2 252.2,821.3 249.2,821.4 246.3,821.5 243.3,821.6 240.3,821.7 237.3,821.8 234.3,821.8 231.3,821.9 228.3,821.9 225.3,822.0 222.3,822.0 219.2,822.0 216.2,822.0 213.2,822.0 210.2,822.0 207.2,822.0 204.2,822.0 201.2,821.9 198.1,821.9 195.1,821.8 192.1,821.8 189.1,821.7 186.0,821.6 183.0,821.5 180.0,821.4 176.9,821.3 173.9,821.1 170.8,821.0" fill="none" stroke="#000" stroke-width="5.6" stroke-linecap="round" stroke-linejoin="round"/>
<path d="M170.8,821.0 173.9,821.1 176.9,821.3 180.0,821.4 183.0,821.5 186.1,821.6 189.1,821.7 192.2,821.8 195.2,821.8 198.2,821.9 201.3,821.9 204.3,822.0 207.3,822.0 210.3,822.0 213.4,822.0 216.4,822.0 219.4,822.0 222.4,822.0 225.4,822.0 228.4,821.9 231.4,821.9 234.4,821.8 237.4,821.8 240.4,821.7 243.4,821.6 246.4,821.5 249.4,821.4 252.4,821.3 255.4,821.2 258.4,821.1 261.4,821.0 264.4,820.9 267.4,820.7 270.4,820.6 273.3,820.4 276.3,820.3 279.3,820.1 282.3,820.0 285.3,819.8 288.3,819.6 291.3,819.4 294.3,819.2 297.2,819.0 300.2,818.8 303.2,818.6 306.2,818.4 309.2,818.2 312.2,818.0 315.2,817.8 318.2,817.6 321.2,817.3 324.2,817.1 327.2,816.9 330.2,816.6 333.2,816.4 336.2,816.1 339.2,815.9 342.2,815.6 345.2,815.4 348.2,815.1 351.2,814.9 354.2,814.6 357.3,814.4 360.3,814.1 363.3,813.8 366.3,813.5 369.4,813.3 372.4,813.0 375.4,812.7 378.4,812.4 381.5,812.1 384.5,811.8 387.5,811.5 390.5,811.1 393.6,810.8 396.6,810.4 399.6,810.0 402.6,809.6 405.6,809.2 408.6,808.8 411.6,808.4 414.6,807.9 417.6,807.4 420.6,806.9 423.6,806.4 426.5,805.9 429.5,805.3 432.4,804.7 435.4,804.1 438.3,803.5 441.3,802.9 444.2,802.2 447.1,801.5 450.0,800.7 452.9,799.9 455.8,799.2 458.6,798.3 461.5,797.5 464.3,796.6 467.2,795.6 470.0,794.7 472.8,793.7 475.6,792.6 478.4,791.6 481.1,790.5 483.9,789.3 486.6,788.1 489.4,786.9 492.1,785.6 494.7,784.3 497.4,783.0 500.1,781.6 502.7,780.2 505.3,778.7 507.9,777.1 510.5,775.6 513.1,773.9 515.6,772.3 518.1,770.6 520.6,768.8 523.1,767.0 525.5,765.2 527.9,763.3 530.2,761.4 532.6,759.4 534.9,757.4 537.1,755.4 539.3,753.3 541.5,751.2 543.6,749.0 545.7,746.8 547.7,744.6 549.7,742.3 551.7,740.0 553.6,737.7 555.4,735.3 557.2,732.9 558.9,730.4 560.6,728.0 562.2,725.5 563.7,722.9 565.2,720.3 566.6,717.7 568.0,715.1 569.2,712.4 570.5,709.7 571.6,707.0 572.7,704.3 573.7,701.5 574.7,698.7 575.7,695.9 576.5,693.1 577.4,690.2 578.2,687.3 578.9,684.4 579.6,681.5 580.3,678.6 580.9,675.7 581.5,672.7 582.0,669.7 582.6,666.8 583.1,663.8 583.6,660.8 584.1,657.8 584.5,654.8 584.9,651.8 585.4,648.8 585.8,645.8 586.2,642.8 586.6,639.7 587.0,636.7 587.3,633.7 587.7,630.7 588.1,627.7 588.5,624.7 588.8,621.7 589.2,618.7 589.5,615.7 589.9,612.7 590.2,609.7 590.6,606.7 590.9,603.7 591.3,600.6 591.6,597.6 591.9,594.6 592.2,591.6 592.5,588.6 592.8,585.6 593.2,582.6 593.5,579.6 593.8,576.6 594.1,573.6 594.3,570.6 594.6,567.6 594.9,564.6 595.2,561.6 595.5,558.6 595.8,555.6 596.0,552.6 596.3,549.6 596.6,546.7 596.8,543.7 597.1,540.7 597.3,537.7 597.6,534.7 597.9,531.7 598.1,528.7 598.4,525.7 598.6,522.7 598.9,519.7 599.1,516.7 599.3,513.7 599.6,510.7 599.8,507.7 600.0,504.7 600.3,501.7 600.5,498.7 600.7,495.7 601.0,492.7 601.2,489.7 601.4,486.7 601.7,483.7 601.9,480.7 602.1,477.7 602.3,474.8 602.6,471.8 602.8,468.8 603.0,465.8 603.2,462.8 603.4,459.8 603.7,456.8 603.9,453.8 604.1,450.8 604.3,447.8 604.6,444.8 604.8,441.8 605.0,438.8 605.2,435.8 605.4,432.8 605.7,429.8 605.9,426.8 606.1,423.8 606.3,420.8 606.5,417.8 606.8,414.8 607.0,411.8 607.2,408.8 607.4,405.8 607.7,402.8 607.9,399.8 608.1,396.8 608.3,393.8 608.5,390.8 608.8,387.8 609.0,384.8 609.2,381.8 609.4,378.8 609.7,375.8 609.9,372.8 610.1,369.8 610.3,366.8 610.6,363.8 610.8,360.8 611.0,357.8 611.2,354.8 611.5,351.7 611.7,348.7 611.9,345.7 612.1,342.7 612.4,339.7 612.6,336.7 612.8,333.7 613.1,330.7 613.3,327.7 613.5,324.7 613.8,321.7 614.0,318.7 614.2,315.7 614.5,312.7 614.7,309.7 614.9,306.7 615.2,303.7 615.4,300.7 615.6,297.7 615.9,294.7 616.1,291.6 616.4,288.6 616.6,285.6 616.8,282.6 617.1,279.6 617.3,276.6 617.6,273.6 617.8,270.6 618.1,267.6 618.3,264.6 618.6,261.6 618.8,258.6 619.0,255.6 619.3,252.6 619.6,249.5 619.8,246.5 620.1,243.5 620.3,240.5 620.6,237.5 620.8,234.5 621.1,231.5 621.4,228.5 621.6,225.5 621.9,222.5 622.2,219.5 622.4,216.5 622.7,213.5 623.0,210.5 623.3,207.5 623.6,204.5 623.9,201.5 624.3,198.5 624.6,195.5 625.0,192.5 625.3,189.5 625.7,186.5 626.1,183.5 626.5,180.5 626.9,177.5 627.3,174.6 627.7,171.6 628.2,168.6 628.7,165.6 629.2,162.7 629.7,159.7 630.2,156.7 630.8,153.8 631.3,150.8 631.9,147.9 632.5,144.9 633.2,142.0 633.8,139.1 634.5,136.1 635.2,133.2 635.9,130.3 636.7,127.4 637.5,124.4 638.3,121.5 639.1,118.6 640.0,115.7 640.9,112.8 641.8,110.0 642.8,107.1 643.8,104.2 644.9,101.4 646.0,98.7 647.2,95.9 648.5,93.3 649.9,90.7 651.4,88.2 653.0,85.8 654.7,83.5 656.5,81.3 658.5,79.2 660.6,77.2 662.8,75.3 665.2,73.6 667.6,72.0 670.2,70.5 672.8,69.0 675.6,67.7 678.4,66.5 681.2,65.3 684.1,64.3 687.1,63.3 690.0,62.3 693.0,61.4 696.0,60.5 699.0,59.7 702.0,58.8 705.0,58.0 708.0,57.2 710.9,56.5 713.9,55.7 716.8,55.0 719.8,54.2 722.7,53.5 725.6,52.8 728.5,52.1 731.5,51.5 734.4,50.8 737.3,50.2 740.2,49.6 743.2,49.0 746.1,48.4 749.1,47.9 752.0,47.3 755.0,46.8 757.9,46.3 760.9,45.8 763.8,45.3 766.8,44.9 769.8,44.4 772.7,44.0 775.7,43.6 778.7,43.2 781.6,42.8 784.6,42.4 787.6,42.1 790.6,41.7 793.6,41.4 796.6,41.1 799.5,40.7 802.5,40.4 805.5,40.2 808.5,39.9 811.5,39.6 814.5,39.3 817.5,39.1 820.5,38.9 823.5,38.6 826.5,38.4 829.6,38.2 832.6,38.0 835.6,37.8 838.6,37.6 841.6,37.4 844.6,37.3 847.6,37.1 850.6,36.9 853.6,36.8 856.7,36.6 859.7,36.5 862.7,36.4 865.7,36.2 868.7,36.1 871.7,36.0 874.8,35.9" fill="none" stroke="#000" stroke-width="5.6" stroke-linecap="round" stroke-linejoin="round"/>
<text x="135.5" y="783.2" text-anchor="end" font-size="55.5" transform="matrix(1,0,0,1.025,0,-19.58)">-60</text>
<text x="135.5" y="669.6" text-anchor="end" font-size="55.5" transform="matrix(1,0,0,1.025,0,-16.74)">-40</text>
<text x="135.5" y="556.0" text-anchor="end" font-size="55.5" transform="matrix(1,0,0,1.025,0,-13.90)">-20</text>
<text x="135.5" y="442.4" text-anchor="end" font-size="55.5" transform="matrix(1,0,0,1.025,0,-11.06)">0</text>
<text x="135.5" y="328.8" text-anchor="end" font-size="55.5" transform="matrix(1,0,0,1.025,0,-8.22)">20</text>
<text x="135.5" y="215.2" text-anchor="end" font-size="55.5" transform="matrix(1,0,0,1.025,0,-5.38)">40</text>
<text x="135.5" y="101.6" text-anchor="end" font-size="55.5" transform="matrix(1,0,0,1.025,0,-2.54)">60</text>
<text x="173.0" y="913.5" text-anchor="middle" font-size="55.5" transform="matrix(1,0,0,1.025,0,-22.84)">-20</text>
<text x="378.3" y="913.5" text-anchor="middle" font-size="55.5" transform="matrix(1,0,0,1.025,0,-22.84)">-10</text>
<text x="583.6" y="913.5" text-anchor="middle" font-size="55.5" transform="matrix(1,0,0,1.025,0,-22.84)">0</text>
<text x="788.9" y="913.5" text-anchor="middle" font-size="55.5" transform="matrix(1,0,0,1.025,0,-22.84)">10</text>
<text x="994.2" y="913.5" text-anchor="middle" font-size="55.5" transform="matrix(1,0,0,1.025,0,-22.84)">20</text>
<text x="566.5" y="973.3" text-anchor="middle" font-size="60.2" transform="matrix(1,0,0,1.015,0,-14.60)">External Field <tspan font-style="italic">H</tspan> (kOe)</text>
<text transform="translate(42,435.2) rotate(-90) scale(1,1.03)" text-anchor="middle" font-size="60.4">Magnetization, <tspan font-style="italic">M</tspan> (emu/g)</text>
<path d="M648,556.8H731.5" stroke="#000" stroke-width="5.6" stroke-linecap="round"/>
<text x="742.5" y="573.7" font-size="42.6" transform="matrix(1,0,0,1.025,0,-14.34)">CoFe<tspan class="s" dx="-1" dy="7.7">2</tspan><tspan dy="-7.7">O</tspan><tspan class="s" dx="-1" dy="7.7">4</tspan></text>
<path d="M648,598.9H731.5" stroke="#ff0000" stroke-width="5.6" stroke-linecap="round"/>
<text x="742.5" y="615.8" font-size="42.6" transform="matrix(1,0,0,1.025,0,-15.39)">CoBi<tspan class="s" dx="-1" dy="7.7">0.1</tspan><tspan dy="-7.7">Fe</tspan><tspan class="s" dx="-1" dy="7.7">1.9</tspan><tspan dy="-7.7">O</tspan><tspan class="s" dx="-1" dy="7.7">4</tspan></text>
<path d="M648,640.9H731.5" stroke="#0000ff" stroke-width="5.6" stroke-linecap="round"/>
<text x="742.5" y="657.8" font-size="42.6" transform="matrix(1,0,0,1.025,0,-16.45)">CoLa<tspan class="s" dx="-1" dy="7.7">0.1</tspan><tspan dy="-7.7">Fe</tspan><tspan class="s" dx="-1" dy="7.7">1.9</tspan><tspan dy="-7.7">O</tspan><tspan class="s" dx="-1" dy="7.7">4</tspan></text>
<path d="M648,683.0H731.5" stroke="#800080" stroke-width="5.6" stroke-linecap="round"/>
<text x="742.5" y="699.9" font-size="42.6" transform="matrix(1,0,0,1.025,0,-17.50)">CoAl<tspan class="s" dx="-1" dy="7.7">0.1</tspan><tspan dy="-7.7">Fe</tspan><tspan class="s" dx="-1" dy="7.7">1.9</tspan><tspan dy="-7.7">O</tspan><tspan class="s" dx="-1" dy="7.7">4</tspan></text>
</svg>
</body></html>
